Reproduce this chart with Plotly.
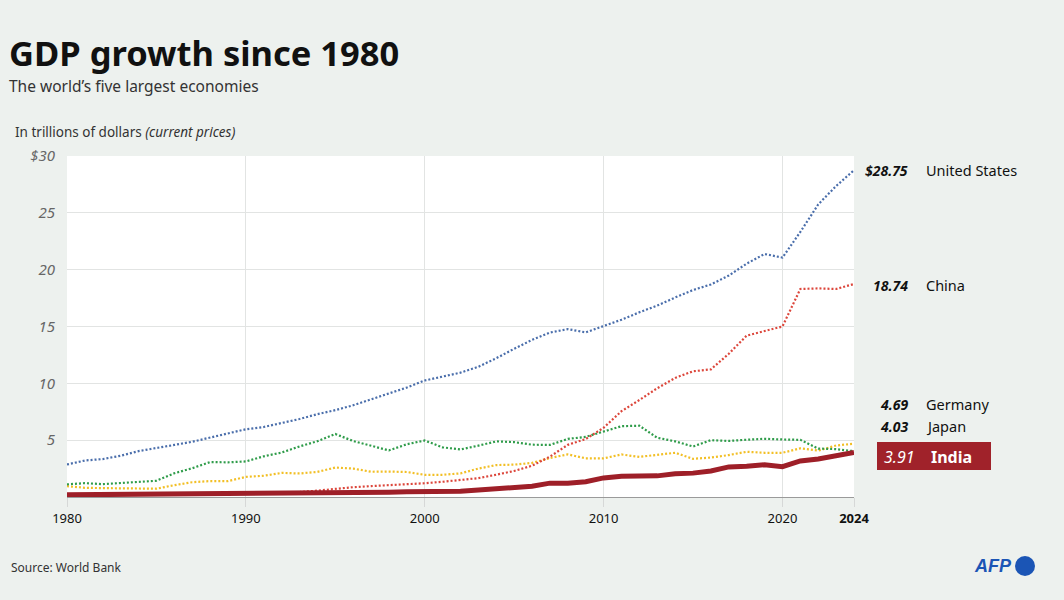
import plotly.graph_objects as go

years = list(range(1980, 2025))

us = [2.86, 3.21, 3.34, 3.63, 4.04, 4.34, 4.58, 4.86, 5.24, 5.64,
      5.96, 6.16, 6.52, 6.86, 7.29, 7.64, 8.07, 8.58, 9.06, 9.63,
      10.25, 10.58, 10.94, 11.46, 12.21, 13.04, 13.82, 14.47, 14.77, 14.48,
      15.05, 15.60, 16.25, 16.84, 17.55, 18.21, 18.70, 19.48, 20.53, 21.38,
      21.06, 23.32, 25.74, 27.36, 28.75]
china = [0.19, 0.20, 0.21, 0.23, 0.26, 0.31, 0.30, 0.27, 0.31, 0.35,
         0.36, 0.38, 0.43, 0.44, 0.56, 0.73, 0.86, 0.96, 1.03, 1.09,
         1.21, 1.34, 1.47, 1.66, 1.96, 2.29, 2.75, 3.55, 4.59, 5.10,
         6.09, 7.55, 8.53, 9.57, 10.48, 11.06, 11.23, 12.60, 14.20, 14.60,
         15.00, 18.30, 18.35, 18.30, 18.74]
japan = [1.11, 1.22, 1.13, 1.24, 1.32, 1.43, 2.09, 2.53, 3.07, 3.05,
         3.13, 3.58, 3.91, 4.45, 4.91, 5.55, 4.92, 4.49, 4.10, 4.64,
         4.97, 4.37, 4.18, 4.52, 4.89, 4.83, 4.60, 4.58, 5.11, 5.29,
         5.76, 6.23, 6.27, 5.21, 4.90, 4.44, 5.00, 4.93, 5.04, 5.12,
         5.06, 5.03, 4.26, 4.21, 4.03]
germany = [0.95, 0.81, 0.78, 0.77, 0.73, 0.73, 1.04, 1.30, 1.40, 1.40,
           1.77, 1.87, 2.12, 2.07, 2.21, 2.59, 2.50, 2.22, 2.24, 2.20,
           1.95, 1.95, 2.08, 2.50, 2.81, 2.85, 3.00, 3.43, 3.75, 3.40,
           3.40, 3.74, 3.53, 3.73, 3.89, 3.36, 3.47, 3.69, 3.98, 3.89,
           3.89, 4.28, 4.08, 4.53, 4.69]
india = [0.19, 0.20, 0.20, 0.22, 0.21, 0.23, 0.25, 0.28, 0.30, 0.30,
         0.32, 0.27, 0.29, 0.28, 0.33, 0.36, 0.39, 0.42, 0.42, 0.46,
         0.47, 0.49, 0.51, 0.61, 0.71, 0.82, 0.94, 1.22, 1.20, 1.34,
         1.68, 1.82, 1.83, 1.86, 2.04, 2.10, 2.29, 2.65, 2.70, 2.84,
         2.67, 3.17, 3.35, 3.64, 3.91]

x_ticks = [1980, 1990, 2000, 2010, 2020, 2024]
x_ticktext = ["1980", "1990", "2000", "2010", "2020", "<b>2024</b>"]
y_ticks = [5, 10, 15, 20, 25, 30]
y_ticktext = ["5", "10", "15", "20", "25", "$30"]

labels = [("$28.75", "United States", 170), ("18.74", "China", 285),
          ("4.69", "Germany", 404), ("4.03", "Japan", 426)]

BG = "#edf1ee"
FONT = "Noto Sans"

L, R, T, B = 67, 854, 156, 497
W, H = 1064, 600


def px(x):
    return (x - L) / (R - L)


def py(y):
    return (B - y) / (B - T)


fig = go.Figure()

series = [
    ("Germany", germany, "#f2bf26", 2.2, "2px,2px"),
    ("Japan", japan, "#2f9c4a", 2.2, "2px,2px"),
    ("China", china, "#dc463b", 2.2, "2px,2px"),
    ("United States", us, "#4a6eab", 2.2, "2px,2px"),
]
for name, vals, col, w, dash in series:
    fig.add_trace(go.Scatter(x=years, y=vals, mode="lines", name=name,
                             line=dict(color=col, width=w, dash=dash),
                             hoverinfo="skip"))
fig.add_trace(go.Scatter(x=years, y=india, mode="lines", name="India",
                         line=dict(color="#9e1f28", width=5),
                         hoverinfo="skip"))

fig.update_layout(
    width=W, height=H,
    margin=dict(l=L, r=W - R, t=T, b=H - B),
    paper_bgcolor=BG, plot_bgcolor="white",
    showlegend=False,
    font=dict(family=FONT, color="#222"),
    xaxis=dict(range=[1980, 2024], tickvals=x_ticks, ticktext=x_ticktext,
               showgrid=True, gridcolor="#e2e4e3", gridwidth=1,
               zeroline=False, showline=True, linecolor="#9a9a9a", linewidth=1,
               ticks="outside", ticklen=9, tickcolor="#d6d8d7",
               tickfont=dict(family=FONT, size=13, color="#111")),
    yaxis=dict(range=[0, 30], tickvals=y_ticks, ticktext=y_ticktext,
               showgrid=True, gridcolor="#e2e4e3", gridwidth=1,
               zeroline=False, showline=False, ticks="", ticklabelstandoff=11,
               tickfont=dict(family=FONT, size=15, color="#666",
                             style="italic")),
)


def note(x, y, text, size, color="#111", family=FONT, anchor="left"):
    return dict(x=px(x), y=py(y), xref="paper", yref="paper", text=text,
                font=dict(family=family, size=size, color=color),
                xanchor=anchor, yanchor="middle", showarrow=False)


ann = [
    note(7, 52, "<b>GDP growth since 1980</b>", 34.5),
    note(7, 86, "The world\u2019s five largest economies", 15.5, "#333"),
    note(13, 132, "In trillions of dollars <i>(current prices)</i>", 13.5, "#333"),
    note(9, 567, "Source: World Bank", 12, "#333"),
    note(972, 566, "<b><i>AFP</i></b>", 18, "#1b55b5", "Liberation Sans, Arial"),
]
for val, name, ypix in labels:
    ann.append(note(910, ypix, "<b><i>%s</i></b>" % val, 14, anchor="right"))
    ann.append(note(924, ypix, name, 14.5))

ann.append(note(917, 457, "<i>3.91</i>", 16, "white", anchor="right"))
ann.append(note(929, 457, "<b>India</b>", 16, "white"))

fig.update_layout(annotations=ann)

shapes = [
    dict(type="rect", xref="paper", yref="paper",
         x0=px(877), x1=px(991), y0=py(470), y1=py(442),
         fillcolor="#a0222a", line=dict(width=0), layer="below"),
    dict(type="circle", xref="paper", yref="paper",
         x0=px(1015), x1=px(1035), y0=py(576), y1=py(556),
         fillcolor="#1b55b5", line=dict(width=0)),
]
fig.update_layout(shapes=shapes)

fig.write_html("out.html")
